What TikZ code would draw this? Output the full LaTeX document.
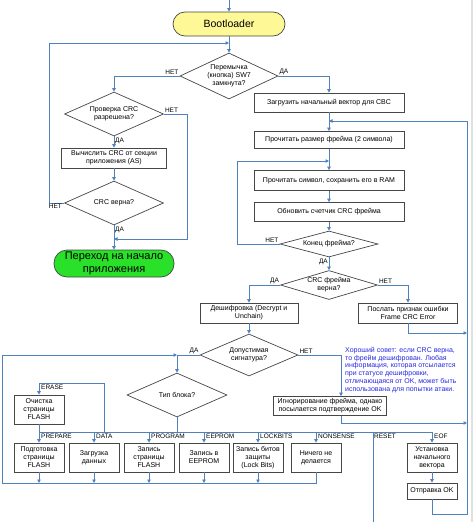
\documentclass[tikz,border=0pt]{standalone}
\usepackage{fontspec}
\setmainfont{Liberation Sans}
\usetikzlibrary{shapes.geometric, arrows.meta}
\definecolor{wire}{RGB}{79,129,189}
\definecolor{rim}{RGB}{70,70,70}
\definecolor{bootfill}{RGB}{255,248,150}
\definecolor{gofill}{RGB}{40,225,40}
\definecolor{hint}{RGB}{40,40,225}

\tikzset{
  box/.style={draw=rim, fill=white, line width=0.7pt, align=center,
    font=\fontsize{7}{8}\selectfont, inner sep=1pt},
  term/.style={box, rounded corners=12pt},
  ask/.style={box, diamond, inner sep=0pt, shape aspect=2.1},
  flat/.style={ask, shape aspect=3.5},
  lbl/.style={font=\fontsize{6.5}{7}\selectfont, inner sep=1pt},
  ln/.style={draw=wire, line width=0.8pt, -{Triangle[length=3.5pt,width=3.5pt]}},
  lnp/.style={draw=wire, line width=0.8pt},
}

\begin{document}
\begin{tikzpicture}[x=1pt, y=-1pt]
  \useasboundingbox (0,0) rectangle (474,522);
  \draw[black!12, line width=1.5pt] (472,0) -- (472,522);

  % left column
  \node[term, fill=bootfill, minimum width=112pt, minimum height=24pt,
    font=\fontsize{10.5}{12}\selectfont] (boot) at (229,24) {Bootloader};
  \node[ask, minimum width=98pt, minimum height=46pt] (sw7) at (229,76)
    {Перемычка\\(кнопка) SW7\\замкнута?};
  \node[ask, minimum width=99pt, minimum height=44pt] (crcen) at (114,114)
    {Проверка CRC\\разрешена?};
  \node[box, minimum width=105pt, minimum height=20pt] (calc) at (114,158)
    {Вычислить CRC от секции\\приложения (AS)};
  \node[ask, minimum width=99pt, minimum height=44pt] (crcok) at (114,203)
    {CRC верна?};
  \node[term, fill=gofill, rounded corners=13pt, minimum width=120pt, minimum height=27pt,
    font=\fontsize{11}{12.5}\selectfont] (app) at (114,263.5) {Переход на начало\\приложения};

  % right column
  \node[box, minimum width=150pt, minimum height=19pt] (cbc) at (329,102.5)
    {Загрузить начальный вектор для CBC};
  \node[box, minimum width=150pt, minimum height=17pt] (rdsz) at (329,140)
    {Прочитать размер фрейма (2 символа)};
  \node[box, minimum width=150pt, minimum height=20pt] (rdch) at (329,180.5)
    {Прочитать символ, сохранить его в RAM};
  \node[box, minimum width=150pt, minimum height=19pt] (upd) at (329,212)
    {Обновить счетчик CRC фрейма};
  \node[flat, minimum width=98pt, minimum height=26pt] (endf) at (329,244)
    {Конец фрейма?};
  \node[flat, minimum width=97pt, minimum height=29pt] (crcf) at (329,285)
    {CRC фрейма\\верна?};
  \node[box, minimum width=98pt, minimum height=20pt] (decr) at (249,313)
    {Дешифровка (Decrypt и\\Unchain)};
  \node[box, minimum width=99pt, minimum height=20pt] (err) at (408,313)
    {Послать признак ошибки\\Frame CRC Error};
  \node[ask, minimum width=98pt, minimum height=42pt] (sig) at (249,355)
    {Допустимая\\сигнатура?};
  \node[ask, minimum width=100pt, minimum height=44pt] (typ) at (177,395)
    {Тип блока?};
  \node[box, minimum width=113pt, minimum height=19pt] (ign) at (330,406)
    {Игнорирование фрейма, однако\\посылается подтверждение OK};
  \node[anchor=north west, align=left, text=hint, inner sep=0pt,
    font=\fontsize{7}{7.8}\selectfont] (note) at (345,347)
    {Хороший совет: если CRC верна,\\то фрейм дешифрован. Любая\\информация, которая отсылается\\при статусе дешифровки,\\отличающаяся от OK, может быть\\использована для попытки атаки.};

  % block boxes
  \node[box, minimum width=50pt, minimum height=29pt] (clr) at (39,409.5) {Очистка\\страницы\\FLASH};
  \node[box, minimum width=50pt, minimum height=29pt] (prep) at (39,457.5) {Подготовка\\страницы\\FLASH};
  \node[box, minimum width=50pt, minimum height=29pt] (data) at (94,457.5) {Загрузка\\данных};
  \node[box, minimum width=50pt, minimum height=29pt] (prog) at (149,457.5) {Запись\\страницы\\FLASH};
  \node[box, minimum width=50pt, minimum height=29pt] (eep) at (204,457.5) {Запись в\\EEPROM};
  \node[box, minimum width=50pt, minimum height=29pt] (lock) at (258,457.5) {Запись битов\\защиты\\(Lock Bits)};
  \node[box, minimum width=50pt, minimum height=29pt] (none) at (316,457.5) {Ничего не\\делается};
  \node[box, minimum width=50pt, minimum height=29pt] (setv) at (432,457.5) {Установка\\начального\\вектора};
  \node[box, minimum width=50pt, minimum height=16pt] (okbox) at (432,491) {Отправка OK};

  % points on the wires
  \coordinate (entry) at (229,0);
  \coordinate (j1) at (229,43);
  \coordinate (j2) at (114,239);
  \coordinate (j3) at (329,121);
  \coordinate (j4) at (329,161);
  \coordinate (j5) at (typ.north |- sig.west);
  \coordinate (bus) at (0,432);
  \coordinate (bot) at (0,483);
  \coordinate (lc) at (2,483);
  \coordinate (ers) at (104,432);
  \coordinate (ersup) at (104,383);
  \coordinate (rst) at (373,522);

  % left column wires
  \draw[ln] (entry) -- (boot.north);
  \draw[ln] (boot.south) -- (sw7.north);
  \draw[ln] (sw7.west) -| (crcen.north);
  \node[lbl, anchor=south east] (l1) at (sw7.west) {НЕТ};
  \draw[ln] (sw7.east) -| (cbc.north);
  \node[lbl, anchor=south west] (l2) at (sw7.east) {ДА};
  \draw[ln] (crcen.south) -- (calc.north);
  \node[lbl, anchor=north west] (l3) at (crcen.south) {ДА};
  \draw[ln] (crcen.east) -- ++(24,0) |- (j2);
  \node[lbl, anchor=south west] (l4) at (crcen.east) {НЕТ};
  \draw[ln] (calc.south) -- (crcok.north);
  \draw[ln] (crcok.south) -- (app.north);
  \node[lbl, anchor=north west] (l5) at (crcok.south) {ДА};
  \draw[ln] (crcok.west) -- ++(-15,0) |- (j1);
  \node[lbl, anchor=north east] (l6) at ([xshift=-1pt]crcok.west) {НЕТ};

  % right column wires
  \draw[ln] (cbc.south) -- (rdsz.north);
  \draw[ln] (okbox.south) |- ++(35,15) |- (j3);
  \draw[ln] (rdsz.south) -- (rdch.north);
  \draw[ln] (endf.west) -- ++(-42,0) |- (j4);
  \node[lbl, anchor=south east] (l7) at (endf.west) {НЕТ};
  \draw[ln] (rdch.south) -- (upd.north);
  \draw[ln] (upd.south) -- (endf.north);
  \draw[ln] (endf.south) -- (crcf.north);
  \node[lbl, anchor=north east] (l8) at (endf.south) {ДА};
  \draw[ln] (crcf.west) -| (decr.north);
  \node[lbl, anchor=south east] (l9) at (crcf.west) {ДА};
  \draw[ln] (crcf.east) -| (err.north);
  \node[lbl, anchor=south west] (l10) at (crcf.east) {НЕТ};
  \draw[ln] (err.south) |- (467,333);
  \draw[ln] (decr.south) -- (sig.north);
  \draw[ln] (sig.west) -- (j5) -- (typ.north);
  \node[lbl, anchor=south east] (l11) at (sig.west) {ДА};
  \draw[ln] (sig.east) -| ([xshift=11pt]ign.north);
  \node[lbl, anchor=south west] (l12) at (sig.east) {НЕТ};
  \draw[ln] ([xshift=11pt]ign.south) |- (467,423);

  % block type bus
  \draw[lnp] (typ.south) -- (typ.south |- bus);
  \draw[lnp] (prep.north |- bus) -- (setv.north |- bus);
  \draw[ln] (clr.south) -- (prep.north);
  \foreach \b in {data, prog, eep, lock, none, setv}
    \draw[ln] (\b.north |- bus) -- (\b.north);
  \foreach \b/\t in {prep/PREPARE, data/DATA, prog/PROGRAM, eep/EEPROM, lock/LOCKBITS, none/NONSENSE, setv/EOF}
    \node[lbl, anchor=north west] (t-\b) at ([xshift=1pt, yshift=-1pt]\b.north |- bus) {\t};
  \draw[lnp] (rst |- bus) -- (rst);
  \node[lbl, anchor=north west] (t-rst) at ([yshift=-1pt]rst |- bus) {RESET};
  \draw[ln] (ers) -- (ersup) -| (clr.north);
  \node[lbl, anchor=north west] (t-ers) at ([xshift=1pt, yshift=-1pt]clr.north |- ersup) {ERASE};
  \draw[ln] (setv.south) -- (okbox.north);

  % back to the signature check
  \foreach \b in {prep, data, prog, eep, lock}
    \draw[ln] (\b.south) -- (\b.south |- bot);
  \draw[ln] (none.south) |- (lc) |- (j5);

\end{tikzpicture}
\end{document}
